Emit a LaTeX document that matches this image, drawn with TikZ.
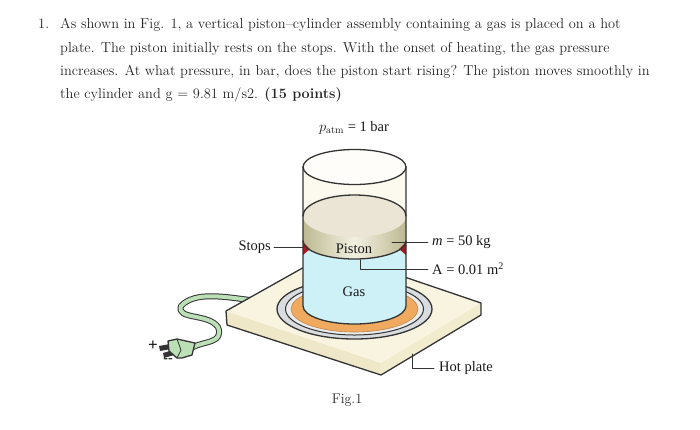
\documentclass[tikz,border=0pt]{standalone}
\usepackage{fontspec}
\newfontfamily\labelfont{Liberation Serif}
\definecolor{gascol}{HTML}{CDF1F7}
\definecolor{emptycol}{HTML}{FCF9EE}
\definecolor{pistoncol}{HTML}{EAE5D5}
\definecolor{pistonedge}{HTML}{BDB993}
\definecolor{pistonmid}{HTML}{F2F0E0}
\definecolor{platecol}{HTML}{F9F4E0}
\definecolor{plateside}{HTML}{EFE8C8}
\definecolor{ovencol}{HTML}{F0AA60}
\definecolor{ringcol}{HTML}{DADDE0}
\definecolor{cordcol}{HTML}{BBE0B6}
\definecolor{stopcol}{HTML}{A51C22}
\definecolor{edgecol}{HTML}{333333}
\tikzset{
	para/.style={anchor=base west,inner sep=0pt,text=black!85,font=\fontsize{14.4}{14.4}\selectfont},
	lab/.style={inner sep=0pt,text=black!90,font=\labelfont\fontsize{14.5}{14.5}\selectfont},
	leader/.style={draw=edgecol,line width=0.9pt},
	outline/.style={draw=edgecol,line width=1.3pt}
}
\begin{document}
\begin{tikzpicture}[>=stealth,line join=round,line cap=round,x=1pt,y=-1pt]
		\useasboundingbox (0,0) rectangle (700,429);
		\def\cx{354.5}
		\def\rx{51.5}
		\def\ry{18}
		\def\cordpath{(250,300) .. controls (225,297) and (195,291) .. (181,306) .. controls (176,320) and (208,313) .. (218,327) .. controls (224,343) and (205,341) .. (193,347)}
		
		\node[para] (num) at (38,28) {1.};
		\node[para] (lineA) at (60,28) {As shown in Fig. 1, a vertical piston--cylinder assembly containing a gas is placed on a hot};
		\node[para] (lineB) at (60,52) {plate. The piston initially rests on the stops. With the onset of heating, the gas pressure};
		\node[para] (lineC) at (60,75.5) {increases. At what pressure, in bar, does the piston start rising? The piston moves smoothly in};
		\node[para] (lineD) at (60,98.5) {the cylinder and g $=$ 9.81 m/s2. \textbf{(15 points)}};
		
		\draw[line width=6pt,edgecol,line cap=butt] \cordpath;
		\draw[line width=4pt,cordcol,line cap=butt] \cordpath;
		\fill[edgecol] (159,346) -- (170,344) -- (171,349) -- (160,351) -- cycle;
		\fill[edgecol] (163,353) -- (173,350) -- (174,355) -- (164,358) -- cycle;
		\draw[outline,fill=cordcol] (168,341) -- (177,339) -- (195,343) -- (192,355) -- (182,358) -- (177,358) -- (169,351) -- cycle;
		\draw[edgecol,line width=0.8pt] (177,339) -- (181,350) -- (177,358);
		\node[lab,font=\labelfont\bfseries\fontsize{17}{17}\selectfont] (plus) at (153,346) {+};
		\node[lab,font=\labelfont\bfseries\fontsize{14}{14}\selectfont] (minus) at (168,361) {--};
		
		\fill[plateside] (226,311) -- (381,363) -- (481,303) -- (481,315) -- (381,375) -- (227,325) -- cycle;
		\fill[plateside!70!platecol] (381,363) -- (481,303) -- (481,315) -- (381,375) -- cycle;
		\fill[platecol] (226,311) -- (331,252) -- (481,303) -- (381,363) -- cycle;
		\draw[outline] (226,311) -- (331,252) -- (481,303) -- (481,315) -- (381,375) -- (227,325) -- cycle;
		\draw[outline,fill=ringcol] (\cx,309) ellipse [x radius=77.5,y radius=30];
		\draw[draw=edgecol,line width=1pt,fill=ringcol!60!white] (\cx,309) ellipse [x radius=69,y radius=26];
		\draw[draw=ovencol!80!black,line width=0.6pt,fill=ovencol] (\cx,309) ellipse [x radius=63.5,y radius=23];
		
		\fill[gascol] (303,241) -- (303,306) arc[start angle=180,end angle=0,x radius=\rx,y radius=\ry] -- (406,241) -- cycle;
		\fill[emptycol] (303,167) -- (303,216) -- (406,216) -- (406,167) -- cycle;
		\draw[outline,fill=white!70!emptycol] (\cx,167) ellipse [x radius=\rx,y radius=17.5];
		\shade[left color=pistonedge,right color=pistonedge,middle color=pistonmid] (303,216) -- (303,241) arc[start angle=180,end angle=0,x radius=\rx,y radius=\ry] -- (406,216) -- cycle;
		\fill[pistoncol] (\cx,216) ellipse [x radius=\rx,y radius=21];
		\draw[outline] (303,216) arc[start angle=180,end angle=360,x radius=\rx,y radius=21];
		\fill[stopcol] (303,242) -- (310,249) -- (303,255) -- cycle;
		\fill[stopcol] (406,242) -- (399,249) -- (406,255) -- cycle;
		\draw[outline] (303,241) arc[start angle=180,end angle=0,x radius=\rx,y radius=\ry];
		\draw[outline] (303,167) -- (303,306) arc[start angle=180,end angle=0,x radius=\rx,y radius=\ry] -- (406,167);
		
		\node[lab] (patm) at (354,128) {$p_{\mathrm{atm}}$ = 1 bar};
		\node[lab] (piston) at (354,249) {Piston};
		\node[lab] (gas) at (354,292) {Gas};
		\node[lab,anchor=east] (stops) at (271,247) {Stops};
		\node[lab,anchor=west] (mass) at (432,242) {\textit{m} = 50 kg};
		\node[lab,anchor=west] (area) at (432,269) {A = 0.01 m\textsuperscript{2}};
		\node[lab,anchor=west] (plate) at (439,368) {Hot plate};
		\node[inner sep=0pt,text=black!85,font=\fontsize{14}{14}\selectfont] (figlab) at (347,400) {Fig.1};
		
		\coordinate (stopend) at (303,247);
		\coordinate (massend) at (392,242);
		\coordinate (areaend) at (360,260);
		\coordinate (plateend) at (412,354);
		\draw[leader] (stops.east) ++(3,0) -- (stopend);
		\draw[leader] (mass.west) ++(-4,0) -- (massend);
		\draw[leader] (area.west) ++(-4,0) -| (areaend);
		\draw[leader] (plate.west) ++(-5,0) -| (plateend);
\end{tikzpicture}
\end{document}
